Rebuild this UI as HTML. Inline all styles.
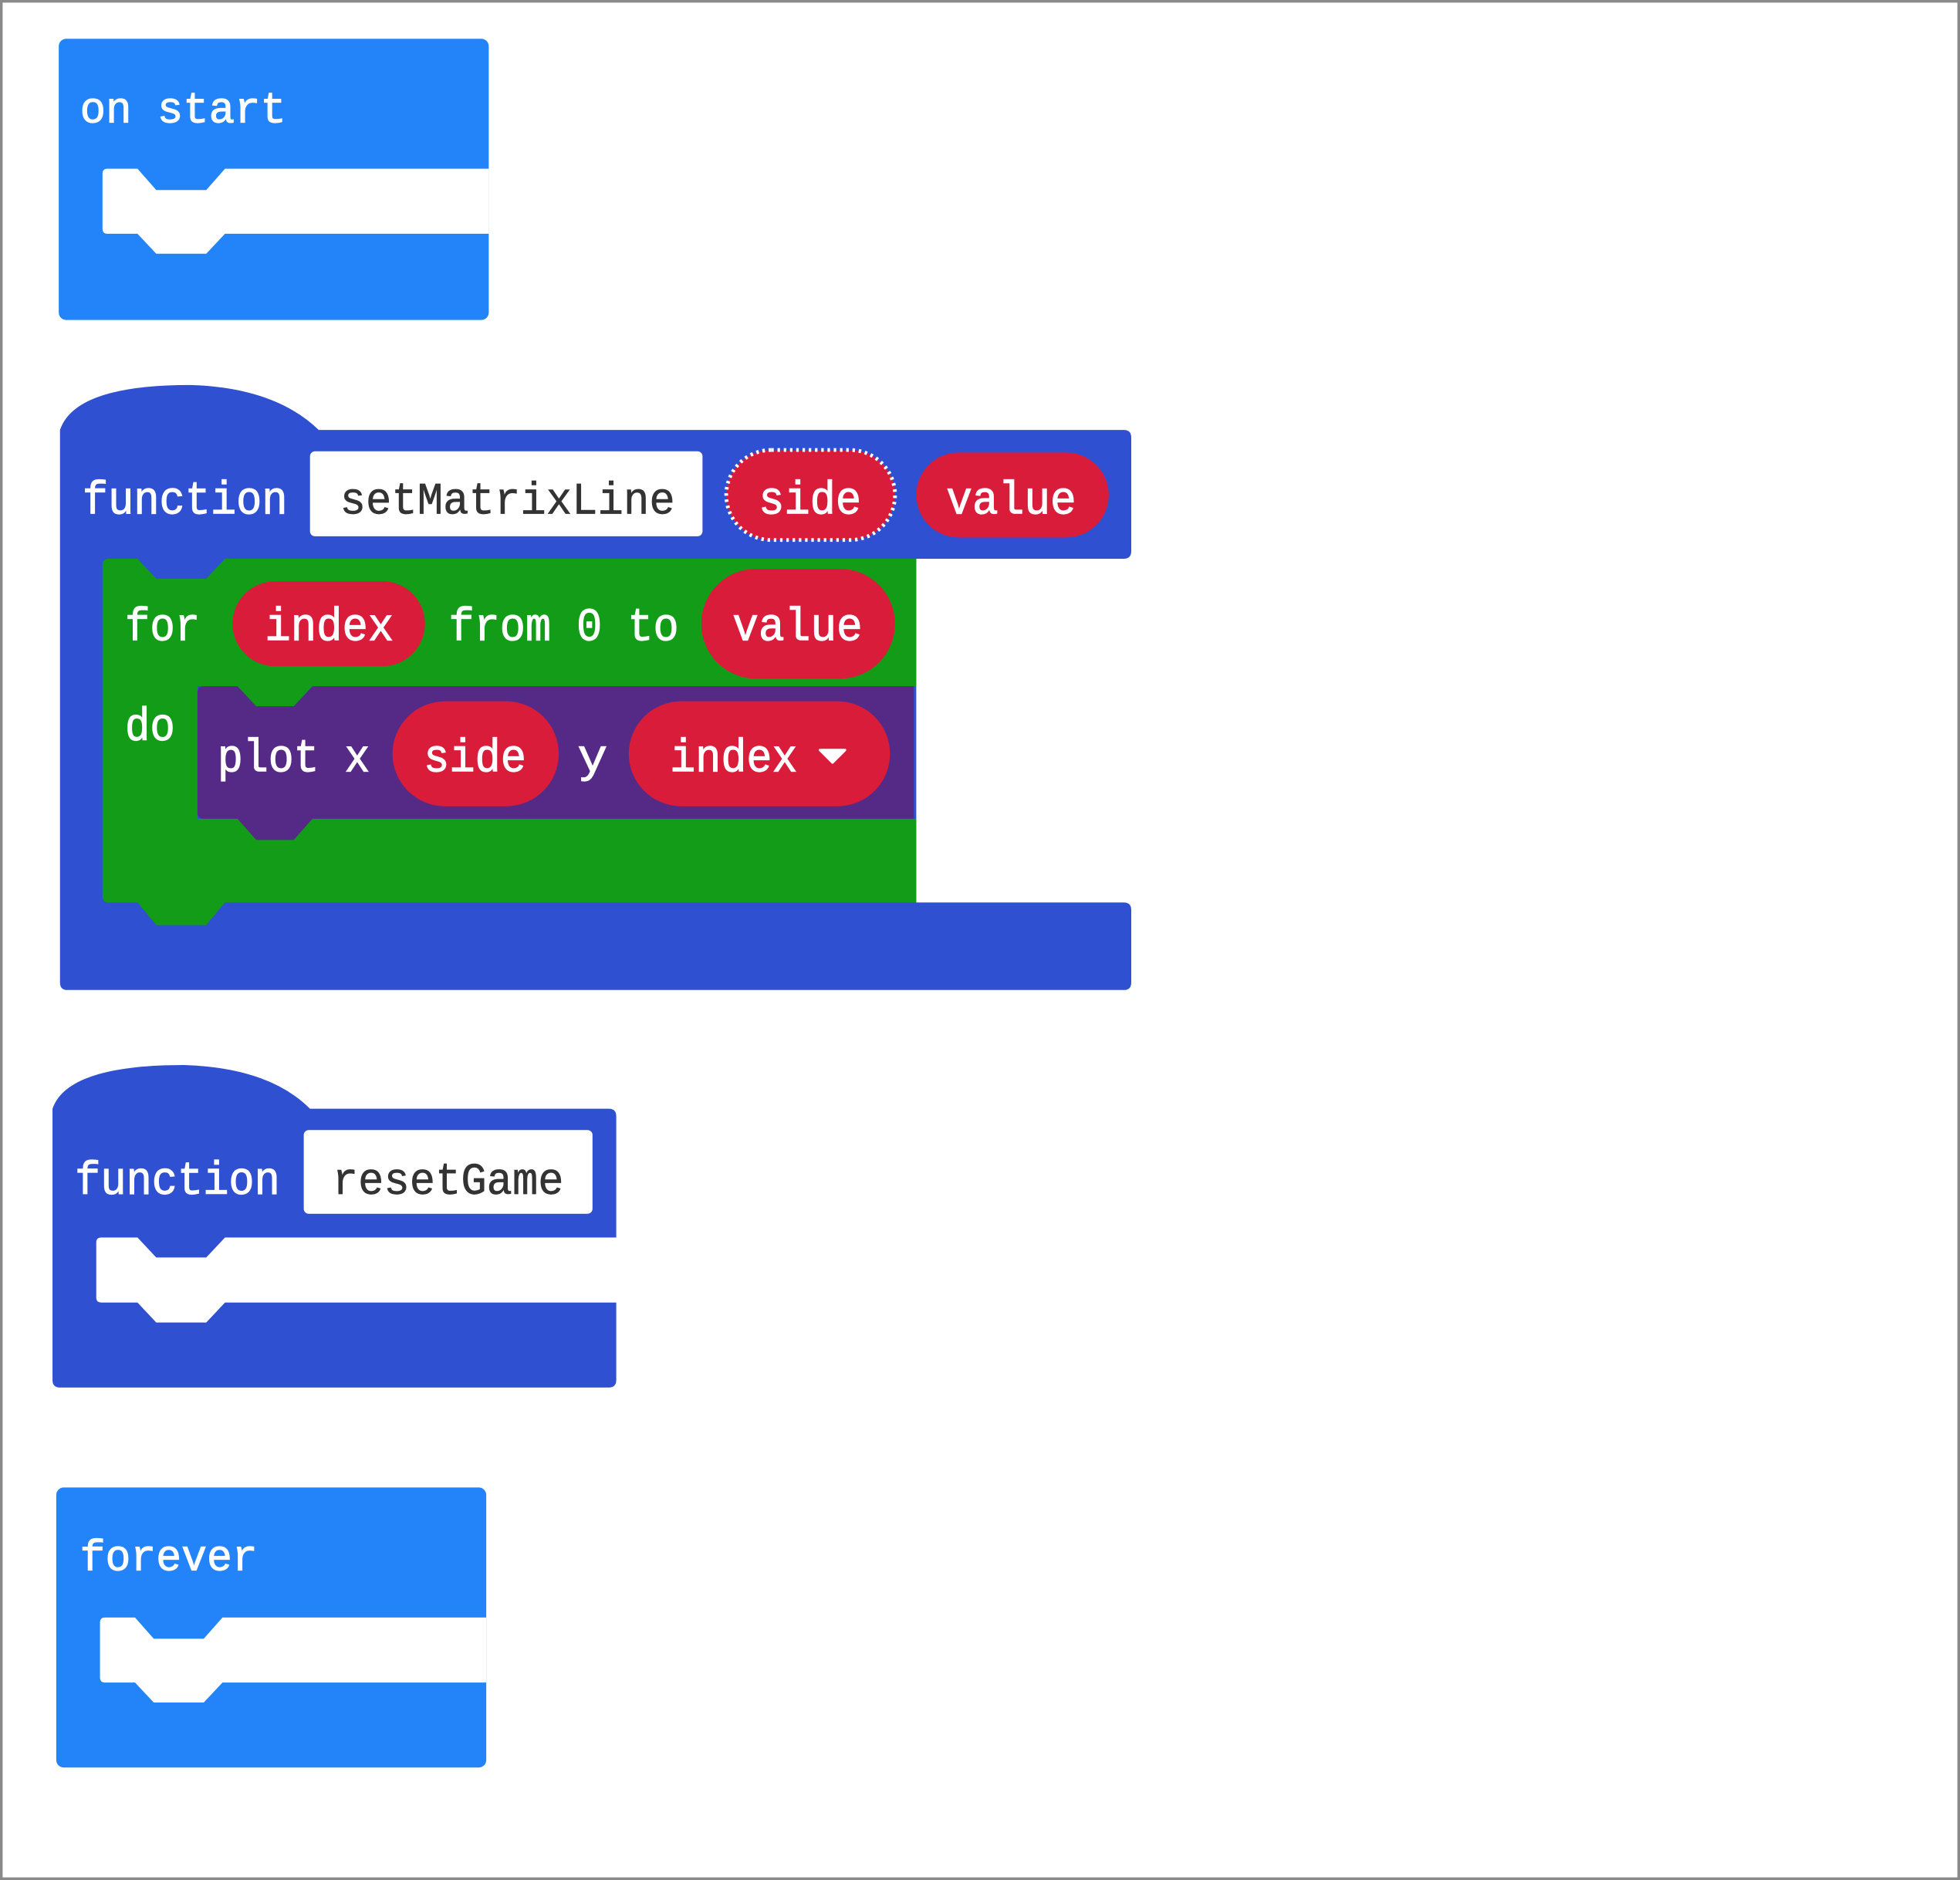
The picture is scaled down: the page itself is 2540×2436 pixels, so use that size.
<!DOCTYPE html>
<html><head><meta charset="utf-8"><style>
html,body{margin:0;padding:0;background:#fff}
svg{display:block}
text{font-family:"Liberation Mono","DejaVu Sans Mono",monospace;}
.w{fill:#fff;stroke:#fff;stroke-width:0.7}
.d{fill:#333;stroke:#333;stroke-width:0.4}
</style></head><body>
<svg width="2540" height="2436" viewBox="0 0 1568 1504" preserveAspectRatio="none" xmlns="http://www.w3.org/2000/svg">
<rect x="0" y="0" width="1568" height="1504" fill="#fff"/>
<rect x="1" y="1" width="1566" height="1502" fill="none" stroke="#8a8a8a" stroke-width="2.2"/>

<!-- on start -->
<rect x="47" y="31" width="344" height="225" rx="6" fill="#2384fa"/>
<path d="M86,135 L110,135 L125,152 L165,152 L180,135 L391,135 L391,187 L180,187 L165,203 L125,203 L110,187 L86,187 Q82,187 82,183 L82,139 Q82,135 86,135 Z" fill="#fff"/>
<text class="w" x="64" y="98" font-size="35" textLength="165" lengthAdjust="spacingAndGlyphs">on start</text>

<!-- function setMatrixLine -->
<path d="M48,344 Q60,308 152,308 Q220,310 255,344 L899,344 Q905,344 905,350 L905,441 Q905,447 899,447 L733,447 L733,722 L899,722 Q905,722 905,728 L905,786 Q905,792 899,792 L54,792 Q48,792 48,786 Z" fill="#3050d2"/>
<path d="M82,452 Q82,447 87,447 L110,447 L125,463 L165,463 L180,447 L733,447 L733,549 L250,549 L235,565 L205,565 L190,549 L158,549 L158,655 L733,655 L733,722 L180,722 L165,740 L125,740 L110,722 L87,722 Q82,722 82,717 Z" fill="#139c18"/>
<path d="M163,549 L190,549 L205,565 L235,565 L250,549 L731,549 L731,655 L250,655 L235,672 L205,672 L190,655 L163,655 Q158,655 158,650 L158,554 Q158,549 163,549 Z" fill="#552a86"/>

<text class="w" x="66" y="411" font-size="37" textLength="164" lengthAdjust="spacingAndGlyphs">function</text>
<rect x="248" y="361" width="314" height="68" rx="4" fill="#fff"/>
<text class="d" x="272" y="411" font-size="36" textLength="268" lengthAdjust="spacingAndGlyphs">setMatrixLine</text>
<rect x="581" y="360" width="135" height="72" rx="36" fill="#d81c3a" stroke="#fff" stroke-width="3" stroke-dasharray="2 3"/>
<text class="w" x="607" y="411" font-size="37" textLength="82" lengthAdjust="spacingAndGlyphs">side</text>
<rect x="733" y="362" width="154" height="68" rx="34" fill="#d81c3a"/>
<text class="w" x="757" y="411" font-size="37" textLength="104" lengthAdjust="spacingAndGlyphs">value</text>

<text class="w" x="100" y="512" font-size="37" textLength="60" lengthAdjust="spacingAndGlyphs">for</text>
<rect x="186" y="465" width="154" height="68" rx="34" fill="#d81c3a"/>
<text class="w" x="212" y="512" font-size="37" textLength="103" lengthAdjust="spacingAndGlyphs">index</text>
<text class="w" x="359" y="512" font-size="37" textLength="184" lengthAdjust="spacingAndGlyphs">from 0 to</text>
<rect x="561" y="455" width="155" height="88" rx="44" fill="#d81c3a"/>
<text class="w" x="586" y="512" font-size="37" textLength="104" lengthAdjust="spacingAndGlyphs">value</text>
<text class="w" x="100" y="592" font-size="37" textLength="40" lengthAdjust="spacingAndGlyphs">do</text>

<text class="w" x="174" y="617" font-size="37" textLength="122" lengthAdjust="spacingAndGlyphs">plot x</text>
<rect x="314" y="561" width="133" height="84" rx="42" fill="#d81c3a"/>
<text class="w" x="339" y="617" font-size="37" textLength="82" lengthAdjust="spacingAndGlyphs">side</text>
<text class="w" x="462" y="617" font-size="37" textLength="24" lengthAdjust="spacingAndGlyphs">y</text>
<rect x="503" y="561" width="209" height="84" rx="42" fill="#d81c3a"/>
<text class="w" x="536" y="617" font-size="37" textLength="102" lengthAdjust="spacingAndGlyphs">index</text>
<path d="M656,600 L676,600 L666,610 Z" fill="#fff" stroke="#fff" stroke-width="2" stroke-linejoin="round"/>

<!-- function resetGame -->
<path d="M42,887 Q54,852 147,852 Q215,854 248,887 L487,887 Q493,887 493,893 L493,990 L180,990 L165,1006 L125,1006 L110,990 L81,990 Q77,990 77,994 L77,1038 Q77,1042 81,1042 L110,1042 L125,1058 L165,1058 L180,1042 L493,1042 L493,1104 Q493,1110 487,1110 L48,1110 Q42,1110 42,1104 Z" fill="#3050d2"/>
<text class="w" x="60" y="955" font-size="37" textLength="164" lengthAdjust="spacingAndGlyphs">function</text>
<rect x="243" y="904" width="231" height="67" rx="4" fill="#fff"/>
<text class="d" x="266" y="955" font-size="36" textLength="185" lengthAdjust="spacingAndGlyphs">resetGame</text>

<!-- forever -->
<rect x="45" y="1190" width="344" height="224" rx="6" fill="#2384fa"/>
<path d="M84,1294 L108,1294 L123,1311 L163,1311 L178,1294 L389,1294 L389,1346 L178,1346 L163,1362 L123,1362 L108,1346 L84,1346 Q80,1346 80,1342 L80,1298 Q80,1294 84,1294 Z" fill="#fff"/>
<text class="w" x="64" y="1256" font-size="35" textLength="142" lengthAdjust="spacingAndGlyphs">forever</text>
</svg>
</body></html>
